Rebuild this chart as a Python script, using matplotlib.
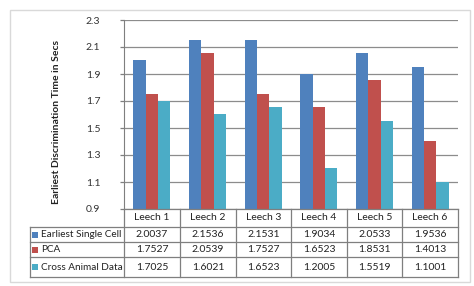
import matplotlib.pyplot as plt
import numpy as np
from matplotlib.patches import Rectangle
from matplotlib.lines import Line2D

# Data
categories = ['Leech 1', 'Leech 2', 'Leech 3', 'Leech 4', 'Leech 5', 'Leech 6']
series_names = ['Earliest Single Cell', 'PCA', 'Cross Animal Data']
single_cell = [2.0037, 2.1536, 2.1531, 1.9034, 2.0533, 1.9536]
pca = [1.7527, 2.0539, 1.7527, 1.6523, 1.8531, 1.4013]
cross_animal = [1.7025, 1.6021, 1.6523, 1.2005, 1.5519, 1.1001]
y_ticks = [0.9, 1.1, 1.3, 1.5, 1.7, 1.9, 2.1, 2.3]

colors = ['#4F81BD', '#C0504D', '#4BACC6']
grid_col = '#8C8C8C'
border_col = '#7F7F7F'

plt.rcParams['font.family'] = ['Lato', 'DejaVu Sans']

W, H = 474, 286
fig = plt.figure(figsize=(W / 100, H / 100), dpi=100)

def fx(px):
    return px / W

def fy(py):
    return 1 - py / H

# outer chart frame (kept behind the axes)
fig.patches.append(Rectangle((fx(10), fy(282)), fx(460), 272 / H, transform=fig.transFigure,
                             facecolor='white', edgecolor='#D9D9D9', lw=1.0, zorder=-5))

left, right, top, bottom = 124, 458, 20, 209
ax = fig.add_axes([fx(left), fy(bottom), fx(right - left), (bottom - top) / H])
ax.patch.set_alpha(0)

x = np.arange(len(categories))
bw = 0.22
for i, vals in enumerate([single_cell, pca, cross_animal]):
    ax.bar(x + (i - 1) * bw, vals, bw, color=colors[i], zorder=3)

ax.set_xlim(-0.5, len(categories) - 0.5)
ax.set_ylim(0.9, 2.3)
ax.set_yticks(y_ticks)
ax.set_yticklabels([f'{t:.1f}' for t in y_ticks], fontsize=7.5, color='#333333')
ax.tick_params(axis='y', length=3, width=0.9, color=border_col, pad=14)
ax.set_xticks([])
ax.yaxis.grid(True, color=grid_col, lw=0.9, zorder=0)
for s in ['top', 'right', 'bottom']:
    ax.spines[s].set_visible(False)
ax.spines['left'].set_color(border_col)
ax.set_ylabel('Earliest Discrimination Time in Secs', fontsize=7.5, fontweight='bold',
              color='#222222')
ax.yaxis.set_label_coords((61 - left) / (right - left), (bottom - 122) / (bottom - top))

# data table below the axis
col_edges = [124, 180, 236, 291, 347, 402, 458]
row_edges = [209, 227, 242, 257, 277]
tab_left = 30
lines = []
lines.append(((col_edges[0], col_edges[-1]), (row_edges[0], row_edges[0])))
for r in row_edges[1:]:
    lines.append(((tab_left, col_edges[-1]), (r, r)))
for c in col_edges:
    lines.append(((c, c), (row_edges[0], row_edges[-1])))
lines.append(((tab_left, tab_left), (row_edges[1], row_edges[-1])))
for (xs, ys) in lines:
    fig.lines.append(Line2D([fx(v) for v in xs], [fy(v) for v in ys], transform=fig.transFigure,
                            color=border_col, lw=0.9))

for j, cat in enumerate(categories):
    cx = (col_edges[j] + col_edges[j + 1]) / 2
    fig.text(fx(cx), fy((row_edges[0] + row_edges[1]) / 2), cat, ha='center', va='center',
             fontsize=7.5, color='#222222')

for i, (name, vals) in enumerate(zip(series_names, [single_cell, pca, cross_animal])):
    cy = (row_edges[i + 1] + row_edges[i + 2]) / 2
    fig.patches.append(Rectangle((fx(32), fy(cy + 3)), fx(6), 6 / H, transform=fig.transFigure,
                                 facecolor=colors[i], edgecolor='none'))
    fig.text(fx(41), fy(cy), name, ha='left', va='center', fontsize=7.2, color='#222222')
    for j, v in enumerate(vals):
        cx = (col_edges[j] + col_edges[j + 1]) / 2
        fig.text(fx(cx), fy(cy), f'{v:.4f}', ha='center', va='center', fontsize=7.5, color='#222222')

fig.savefig('out.png', dpi=100)
